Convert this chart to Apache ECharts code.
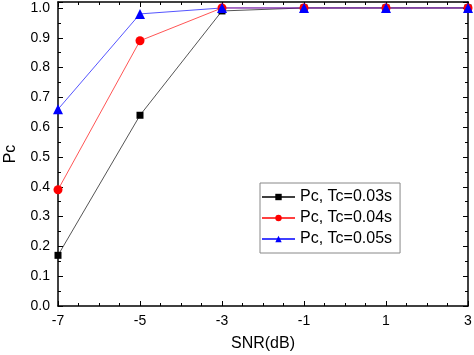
<!DOCTYPE html>
<html><head><meta charset="utf-8">
<script src="https://cdn.jsdelivr.net/npm/echarts@6/dist/echarts.min.js"></script>
<style>html,body{margin:0;padding:0;background:#fff}#c{width:474px;height:355px}</style>
</head><body><div id="c"></div>
<script>
const snr = [-7, -5, -3, -1, 1, 3];
const pc003 = [0.17, 0.64, 0.99, 1.0, 1.0, 1.0];
const pc004 = [0.39, 0.89, 1.0, 1.0, 1.0, 1.0];
const pc005 = [0.66, 0.98, 1.0, 1.0, 1.0, 1.0];
const names = ['Pc, Tc=0.03s', 'Pc, Tc=0.04s', 'Pc, Tc=0.05s'];
const font = 'Liberation Sans, Arial, sans-serif';
const chart = echarts.init(document.getElementById('c'));
const pair = (ys) => snr.map((x, i) => [x, ys[i]]);
const axBase = {
  axisLine: {show: true, onZero: false, lineStyle: {color: '#000', width: 1.5}},
  axisTick: {show: true, inside: true, length: 5, lineStyle: {color: '#000', width: 1}},
  splitLine: {show: false}
};
function mk(name, ys, color, sym, size) {
  return {
    name, type: 'line', data: pair(ys), symbol: sym, symbolSize: size,
    lineStyle: {color, width: 0.9, opacity: 0.75}, itemStyle: {color},
    emphasis: {disabled: true}
  };
}
chart.setOption({
  animation: false,
  grid: {left: 58, right: 6, top: 2, bottom: 49, containLabel: false, outerBoundsMode: 'none'},
  legend: {
    orient: 'vertical', left: 260, top: 183, data: names,
    borderColor: '#888', borderWidth: 1, padding: [6, 8, 6, 1], itemGap: 5,
    itemWidth: 33, itemHeight: 8,
    textStyle: {fontFamily: font, fontSize: 16, color: '#000', padding: [0, 0, 0, 0]}
  },
  xAxis: [
    Object.assign({type: 'value', min: -7, max: 3, interval: 2,
      name: 'SNR(dB)', nameLocation: 'middle', nameGap: 30,
      nameTextStyle: {fontFamily: font, fontSize: 16, color: '#000'},
      axisLabel: {fontFamily: font, fontSize: 14, color: '#000', margin: 8},
      minorTick: {show: true, splitNumber: 4, length: 3, lineStyle: {color: '#000'}}
    }, axBase),
    Object.assign({type: 'value', position: 'top', min: -7, max: 3, interval: 2,
      axisLabel: {show: false},
      minorTick: {show: true, splitNumber: 4, length: 3, lineStyle: {color: '#000'}}
    }, axBase)
  ],
  yAxis: [
    Object.assign({type: 'value', min: 0, max: 1.02, interval: 0.1,
      name: 'Pc', nameLocation: 'middle', nameGap: 39,
      nameTextStyle: {fontFamily: font, fontSize: 16, color: '#000'},
      axisLabel: {fontFamily: font, fontSize: 14, color: '#000', margin: 8, showMaxLabel: false,
        formatter: v => v.toFixed(1)},
      minorTick: {show: true, splitNumber: 2, length: 3, lineStyle: {color: '#000'}}
    }, axBase),
    Object.assign({type: 'value', position: 'right', min: 0, max: 1.02, interval: 0.1,
      axisLabel: {show: false},
      minorTick: {show: true, splitNumber: 2, length: 3, lineStyle: {color: '#000'}}
    }, axBase)
  ],
  series: [
    mk(names[0], pc003, '#000000', 'rect', 7),
    mk(names[1], pc004, '#ff0000', 'circle', 9),
    mk(names[2], pc005, '#0000ff', 'triangle', 10)
  ]
});
</script></body></html>
